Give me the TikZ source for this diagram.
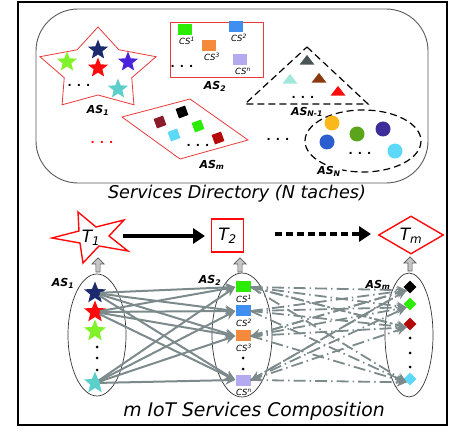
\documentclass[tikz,border=0pt]{standalone}
\usepackage{fontspec}
\setmainfont{DejaVu Sans}
\usetikzlibrary{shapes.geometric,shapes.arrows,arrows.meta,calc}
\definecolor{cnavy}{HTML}{1B2A6E}
\definecolor{cred}{HTML}{FF0A0A}
\definecolor{clime}{HTML}{80F22A}
\definecolor{cpurple}{HTML}{4B22DC}
\definecolor{ccyan}{HTML}{5CCFCB}
\definecolor{cgreen}{HTML}{2CEC06}
\definecolor{cblue}{HTML}{3F8FF0}
\definecolor{corange}{HTML}{F58A3C}
\definecolor{clav}{HTML}{B3AAF0}
\definecolor{cdgray}{HTML}{4A5558}
\definecolor{clcyan}{HTML}{A2E8DA}
\definecolor{cbrown}{HTML}{8B3A10}
\definecolor{cyel}{HTML}{FBB81B}
\definecolor{cgrn2}{HTML}{5AA51A}
\definecolor{cindigo}{HTML}{3C2D9A}
\definecolor{cblue2}{HTML}{2B5FD0}
\definecolor{ccyan2}{HTML}{5CD8F8}
\definecolor{cdred}{HTML}{8B1A2A}
\definecolor{cdred2}{HTML}{B50A0A}
\definecolor{boxred}{HTML}{E83A3A}
\definecolor{arrgray}{HTML}{7D8A8C}
\begin{document}
\begin{tikzpicture}[x=1pt,y=-1pt,
  sstar/.style={star, star points=5, star point ratio=2.3, inner sep=0pt, minimum size=#1, draw=none},
  sstar/.default=21pt,
  sq/.style={rectangle, inner sep=0pt, minimum width=14pt, minimum height=11pt, draw=none},
  rsq/.style={rectangle, inner sep=0pt, minimum width=10pt, minimum height=10pt, rotate=#1, draw=none},
  rsq/.default=30,
  tri/.style={isosceles triangle, isosceles triangle apex angle=75, shape border rotate=90, inner sep=0pt, minimum height=9pt, minimum width=15pt, draw=none},
  circ/.style={circle, inner sep=0pt, minimum size=15pt, draw=none},
  aslab/.style={font=\fontsize{11}{12}\selectfont\bfseries\itshape, inner sep=0pt},
  cslab/.style={font=\fontsize{8.5}{9}\selectfont\itshape, inner sep=0pt},
  dotlab/.style={font=\fontsize{11}{11}\selectfont\bfseries, inner sep=0pt},
  redline/.style={draw=boxred, line width=0.8pt},
  tbox/.style={draw=cred, line width=1.4pt},
  tlab/.style={font=\fontsize{17}{18}\selectfont\itshape, inner sep=0pt},
  uparr/.style={single arrow, rotate=90, draw=black!65, fill=gray!45, line width=0.7pt, minimum height=14pt, minimum width=12pt, single arrow head extend=2.5pt, single arrow head indent=0pt, inner sep=1pt},
  garrow/.style={draw=arrgray, line width=2pt, -{Stealth[length=10pt,width=9pt]}},
  darrow/.style={draw=arrgray, line width=1.8pt, dash pattern=on 12pt off 4pt on 1.5pt off 4pt, -{Stealth[length=10pt,width=9pt]}},
  caption/.style={font=\fontsize{#1}{20}\selectfont\itshape, inner sep=0pt}
]
\useasboundingbox (0,0) rectangle (474,438);
% outer frame
\draw[line width=2pt] (18,2) rectangle (447,425);
% services directory box
\draw[draw=black!65, line width=0.9pt, rounded corners=42pt] (36,9) rectangle (428,183);
\node[caption=17.6] (cap1) at (237,194) {Services Directory (N taches)};

% AS1 big star
\begin{scope}[shift={(98,70)}, xscale=1.42, yscale=-1]
\draw[redline] (90:43) -- (126:25) -- (162:43) -- (198:25) -- (234:43) -- (270:25) -- (306:43) -- (342:25) -- (18:43) -- (54:25) -- cycle;
\end{scope}
\node[sstar, fill=cnavy] (d1a) at (98,50) {};
\node[sstar, fill=clime] (d1b) at (67,62) {};
\node[sstar, fill=cred] (d1c) at (98,68) {};
\node[sstar, fill=cpurple] (d1d) at (128,62) {};
\node[sstar, fill=ccyan] (d1e) at (118,89) {};
\node[dotlab] (d1dots) at (79,85) {. . .};
\node[aslab] (d1lab) at (98,110) {AS\textsubscript{1}};

% AS2 box
\draw[redline] (170,22) rectangle (263,77);
\node[sq, fill=cgreen] (d2a) at (185,30) {};
\node[cslab] (d2al) at (187,41) {CS\textsuperscript{1}};
\node[sq, fill=cblue] (d2b) at (236,27) {};
\node[cslab] (d2bl) at (239,38) {CS\textsuperscript{2}};
\node[sq, fill=corange] (d2c) at (209,46) {};
\node[cslab] (d2cl) at (212,57) {CS\textsuperscript{3}};
\node[sq, fill=clav] (d2d) at (240,60) {};
\node[cslab] (d2dl) at (243,71) {CS\textsuperscript{n}};
\node[dotlab] (d2dots) at (182,66) {. . .};
\node[aslab] (d2lab) at (215,86) {AS\textsubscript{2}};

% AS N-1 triangle
\draw[line width=1.2pt, dash pattern=on 7pt off 4pt] (307,47) -- (368,104) -- (245,104) -- cycle;
\node[tri, fill=cdgray] (d3a) at (307,61) {};
\node[tri, fill=clcyan] (d3b) at (290,80) {};
\node[tri, fill=cbrown] (d3c) at (319,79) {};
\node[tri, fill=cred] (d3d) at (338,92) {};
\node[dotlab] (d3dots) at (303,97) {. . .};
\node[aslab] (d3lab) at (307,112) {AS\textsubscript{N-1}};

% AS N dashed ellipse
\draw[line width=1.2pt, dash pattern=on 7pt off 4pt] (363,141) ellipse [x radius=58, y radius=31];
\node[circ, fill=cyel] (d4a) at (332,123) {};
\node[circ, fill=cgrn2] (d4b) at (357,134) {};
\node[circ, fill=cindigo] (d4c) at (383,129) {};
\node[circ, fill=cblue2] (d4d) at (327,142) {};
\node[circ, fill=ccyan2] (d4e) at (395,151) {};
\node[dotlab] (d4dots) at (360,153) {. . .};
\node[aslab, fill=white, inner sep=1pt] (d4lab) at (329,171) {AS\textsubscript{N}};

\node[dotlab] (dots1) at (278,139) {. . .};
\node[dotlab, text=cred] (dots2) at (102,142) {. . .};

% AS m parallelogram
\draw[redline] (122,117) -- (190,99) -- (248,140) -- (180,159) -- cycle;
\node[rsq=20, fill=cdred] (d5a) at (160,122) {};
\node[rsq=20, fill=black] (d5b) at (182,112) {};
\node[rsq=20, fill=cgreen] (d5c) at (198,126) {};
\node[rsq=20, fill=ccyan2] (d5d) at (174,135) {};
\node[rsq=20, fill=cdred2] (d5e) at (218,138) {};
\node[dotlab] (d5dots) at (198,145) {. . .};
\node[aslab] (d5lab) at (212,165) {AS\textsubscript{m}};

% ===== lower part =====
% T1 star
\draw[tbox] (78,212) -- (96,227) -- (124,220) -- (109,236) -- (128,251) -- (99,246) -- (83,263) -- (80,243) -- (52,238) -- (79,231) -- cycle;
\node[tlab] (t1) at (91,238) {T\textsubscript{1}};
\node[tbox, minimum width=32pt, minimum height=33pt, inner sep=0pt] (t2) at (227.5,235.5) {};
\node[tlab] (t2l) at (227.5,236) {T\textsubscript{2}};
\node[tbox, diamond, minimum width=65pt, minimum height=38pt, inner sep=0pt, aspect=1.7] (tm) at (411,235) {};
\node[tlab] (tml) at (411,236) {T\textsubscript{m}};
\coordinate (a1s) at (123,236);
\coordinate (a1e) at (205,236);
\draw[line width=3.5pt, -{Triangle[length=12pt,width=15pt]}] (a1s) -- (a1e);
\coordinate (a2s) at (275,234);
\coordinate (a2e) at (371,234);
\draw[line width=3.5pt, dash pattern=on 7pt off 4pt, -{Triangle[length=12pt,width=15pt]}] (a2s) -- (a2e);

% up arrows
\node[uparr] (u1) at (98,266) {};
\node[uparr] (u2) at (240,266) {};
\node[uparr] (u3) at (410,265) {};

% ellipses
\draw[black!80, line width=0.7pt] (97,335) ellipse [x radius=29, y radius=61];
\draw[black!80, line width=0.7pt] (242,335) ellipse [x radius=30, y radius=62];
\draw[black!80, line width=0.7pt] (409,335) ellipse [x radius=24, y radius=62];

\node[aslab] (l1) at (63,283) {AS\textsubscript{1}};
\node[aslab] (l2) at (210,280) {AS\textsubscript{2}};
\node[aslab] (l3) at (378,285) {AS\textsubscript{m}};

% left stars
\node[sstar=23pt, fill=cnavy] (s1) at (95,293) {};
\node[sstar=23pt, fill=cred] (s2) at (95,312) {};
\node[sstar=23pt, fill=clime] (s3) at (95,331) {};
\node[sstar=23pt, fill=ccyan] (s4) at (95,383) {};
\node[circle, fill=black, inner sep=0pt, minimum size=3pt] (sd1) at (97,347) {};
\node[circle, fill=black, inner sep=0pt, minimum size=3pt] (sd2) at (97,358) {};
\node[circle, fill=black, inner sep=0pt, minimum size=3pt] (sd3) at (97,370) {};

% middle squares
\node[sq, minimum width=15pt, fill=cgreen] (c1) at (243,287) {};
\node[sq, minimum width=15pt, fill=cblue] (c2) at (243,311) {};
\node[sq, minimum width=15pt, fill=corange] (c3) at (243,336) {};
\node[sq, minimum width=15pt, fill=clav] (c4) at (243,380) {};
\node[cslab] (c1l) at (244,299) {CS\textsuperscript{1}};
\node[cslab] (c2l) at (244,323) {CS\textsuperscript{2}};
\node[cslab] (c3l) at (244,348) {CS\textsuperscript{3}};
\node[cslab] (c4l) at (244,392) {CS\textsuperscript{n}};
\node[circle, fill=black, inner sep=0pt, minimum size=3pt] (cd1) at (243,358) {};
\node[circle, fill=black, inner sep=0pt, minimum size=3pt] (cd2) at (243,369) {};

% right diamonds
\node[rsq=45, minimum width=9pt, minimum height=9pt, fill=black] (r1) at (410,287) {};
\node[rsq=45, minimum width=9pt, minimum height=9pt, fill=cgreen] (r2) at (410,304) {};
\node[rsq=45, minimum width=9pt, minimum height=9pt, fill=cdred2] (r3) at (410,324) {};
\node[rsq=45, minimum width=9pt, minimum height=9pt, fill=ccyan2] (r4) at (410,379) {};
\node[circle, fill=black, inner sep=0pt, minimum size=3pt] (rd1) at (410,338) {};
\node[circle, fill=black, inner sep=0pt, minimum size=3pt] (rd2) at (410,353) {};
\node[circle, fill=black, inner sep=0pt, minimum size=3pt] (rd3) at (410,367) {};

% solid arrows
\foreach \s in {s1,s2,s4}{
  \foreach \c in {c1,c2,c3,c4}{
    \draw[garrow, shorten <=5pt] (\s.center) -- (\c.west);
  }
}
% dash-dot arrows
\foreach \c in {c1,c2,c3,c4}{
  \foreach \r in {r1,r2,r3,r4}{
    \draw[darrow] (\c.east) -- (\r.west);
  }
}
\draw[darrow] (r1.west) -- (c3.east);
\draw[darrow] (r3.west) -- (c1.east);
\draw[darrow] (r1.west) -- (c4.east);

\node[caption=18.8] (cap2) at (254,411) {m IoT Services Composition};
\end{tikzpicture}
\end{document}
